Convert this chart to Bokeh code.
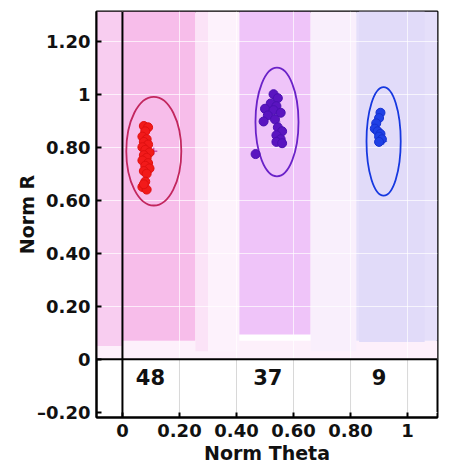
from bokeh.plotting import figure
from bokeh.models import Span, FixedTicker, Range1d
from bokeh.embed import file_html
from bokeh.resources import INLINE
from bokeh.core.properties import value

# ---- data ----
red_x = [0.075, 0.09, 0.08, 0.07, 0.085, 0.075, 0.09, 0.07, 0.08, 0.095, 0.075, 0.085,
         0.07, 0.09, 0.08, 0.095, 0.075, 0.085, 0.08, 0.07, 0.085, 0.075]
red_y = [0.88, 0.875, 0.86, 0.84, 0.83, 0.82, 0.81, 0.80, 0.79, 0.78, 0.77, 0.76,
         0.75, 0.74, 0.73, 0.72, 0.71, 0.70, 0.67, 0.65, 0.64, 0.66]
purple_x = [0.53, 0.545, 0.52, 0.54, 0.50, 0.53, 0.555, 0.51, 0.495, 0.535, 0.545,
            0.56, 0.54, 0.555, 0.54, 0.56, 0.467]
purple_y = [1.0, 0.985, 0.965, 0.955, 0.945, 0.94, 0.93, 0.92, 0.897, 0.905, 0.875,
            0.86, 0.845, 0.83, 0.82, 0.815, 0.774]
blue_x = [0.905, 0.90, 0.89, 0.885, 0.895, 0.905, 0.90, 0.91, 0.90]
blue_y = [0.93, 0.91, 0.89, 0.87, 0.86, 0.85, 0.84, 0.83, 0.82]

cluster_counts = ["48", "37", "9"]
cluster_cx = [0.11, 0.542, 0.916]
cluster_cy = [0.785, 0.895, 0.822]
cluster_w = [0.193, 0.151, 0.12]
cluster_h = [0.41, 0.41, 0.41]
count_x = [0.098, 0.51, 0.90]
count_y = [-0.068, -0.068, -0.068]

x_ticks = [0, 0.2, 0.4, 0.6, 0.8, 1.0]
x_tick_labels = ["0", "0.20", "0.40", "0.60", "0.80", "1"]
y_ticks = [-0.2, 0, 0.2, 0.4, 0.6, 0.8, 1.0, 1.2]
y_tick_labels = ["\u20130.20", "0", "0.20", "0.40", "0.60", "0.80", "1", "1.20"]

# background density bands
band_left = [-0.091, -0.091, 0.0, 0.256, 0.30, 0.41, 0.66, 0.82, 0.83]
band_right = [1.105, 0.0, 0.256, 0.30, 0.41, 0.66, 0.82, 1.105, 1.06]
band_bottom = [0.0, 0.05, 0.07, 0.03, 0.03, 0.093, 0.03, 0.07, 0.065]
band_top = [0.07, 1.312, 1.312, 1.312, 1.312, 1.312, 1.312, 1.312, 1.312]
band_color = ["#fdf0fb", "#f8cdf0", "#f7bdea", "#fbe3f7", "#fdf2fc", "#efc4f9",
              "#f9effc", "#e5dffa", "#e1dbf9"]

FONT = "DejaVu Sans"

p = figure(width=466, height=466, output_backend="svg", toolbar_location=None,
           x_range=Range1d(-0.091, 1.105), y_range=Range1d(-0.22, 1.312),
           min_border_left=96, min_border_right=29, min_border_top=11,
           min_border_bottom=45)

p.quad(left=band_left, right=band_right, bottom=band_bottom, top=band_top,
       fill_color=band_color, line_color=None, level="image")

# grid
p.xgrid.ticker = FixedTicker(ticks=x_ticks)
p.ygrid.ticker = FixedTicker(ticks=y_ticks)
p.grid.grid_line_color = "white"
p.grid.grid_line_alpha = 0.7
p.grid.grid_line_width = 1
# faint grid in the lower white strip
p.segment(x0=x_ticks, x1=x_ticks, y0=[-0.22] * len(x_ticks), y1=[0] * len(x_ticks),
          line_color="#d8d8d8", line_width=1)

# zero lines
p.add_layout(Span(location=0, dimension="height", line_color="black", line_width=2))
p.add_layout(Span(location=0, dimension="width", line_color="black", line_width=2))

# ellipses
ell_colors = ["#c2275e", "#6a22c8", "#1638e0"]
p.ellipse(x=cluster_cx, y=cluster_cy, width=cluster_w, height=cluster_h,
          fill_color=None, line_color=ell_colors, line_width=1.8)
p.scatter(x=cluster_cx, y=cluster_cy, marker="cross", size=7,
          line_color=["#b02090", "#8040d0", "#4060e0"], line_width=1)

# points
p.scatter(red_x, red_y, size=9, fill_color="#f21a1a", line_color="#e01010")
p.scatter(purple_x, purple_y, size=9, fill_color="#5a14c0", line_color="#4a10b0")
p.scatter(blue_x, blue_y, size=9, fill_color="#1f40e6", line_color="#1530d0")

# counts
p.text(x=count_x, y=count_y, text=cluster_counts, text_font=value(FONT),
       text_font_style="bold", text_font_size="21px", text_align="center",
       text_baseline="middle", text_color="#111111")

# axes
p.xaxis.ticker = FixedTicker(ticks=x_ticks)
p.yaxis.ticker = FixedTicker(ticks=y_ticks)
p.xaxis.major_label_overrides = dict(zip(x_ticks, x_tick_labels))
p.yaxis.major_label_overrides = dict(zip(y_ticks, y_tick_labels))
for ax in (p.xaxis[0], p.yaxis[0]):
    ax.major_label_text_font = FONT
    ax.major_label_text_font_style = "bold"
    ax.major_label_text_font_size = "18px"
    ax.major_label_text_color = "#111111"
    ax.axis_label_text_font = FONT
    ax.axis_label_text_font_style = "bold"
    ax.axis_label_text_font_size = "19px"
    ax.axis_label_text_color = "#111111"
    ax.axis_line_color = "black"
    ax.axis_line_width = 2
    ax.major_tick_in = 5
    ax.major_tick_out = 0
    ax.major_tick_line_color = "black"
    ax.major_tick_line_width = 2
    ax.minor_tick_line_color = None
p.xaxis.major_label_standoff = 6
p.yaxis.major_label_standoff = 6
p.xaxis.axis_label = "Norm Theta"
p.yaxis.axis_label = "Norm R"
p.xaxis.axis_label_standoff = 2
p.yaxis.axis_label_standoff = -4

p.outline_line_color = "black"
p.outline_line_width = 2
p.outline_line_alpha = 1
p.background_fill_color = "white"
p.border_fill_color = "white"

open("out.html", "w").write(file_html(p, INLINE))
